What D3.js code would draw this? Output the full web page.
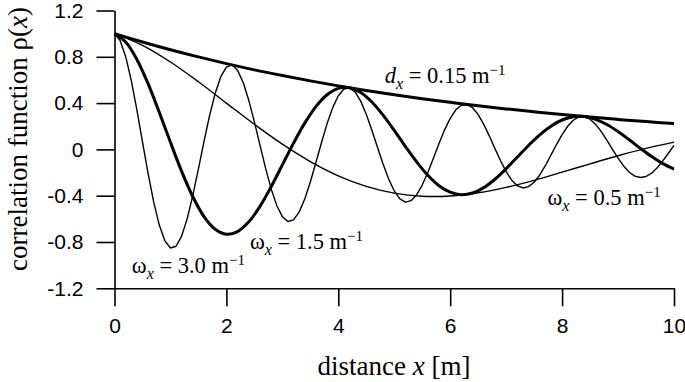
<!DOCTYPE html>
<html>
<head>
<meta charset="utf-8">
<script src="https://cdn.jsdelivr.net/npm/d3@7"></script>
<style>
  body { margin: 0; background: #fff; }
  svg { display: block; }
  .tick text { font-family: "Liberation Sans", Arial, sans-serif; fill: #000; }
  .serif { font-family: "Liberation Serif", "Times New Roman", serif; fill: #000; }
</style>
</head>
<body>
<svg id="chart" width="685" height="382"></svg>
<script>
// correlation functions
// envelope d_x = 0.15, sampled every 0.5 m
var envelope = [1.000, 0.928, 0.861, 0.799, 0.741, 0.687, 0.638, 0.592, 0.549, 0.509, 0.472,
  0.438, 0.407, 0.377, 0.350, 0.325, 0.301, 0.279, 0.259, 0.240, 0.223];

// omega_x = 0.5, every 0.5 m
var omega05 = [1.000, 0.899, 0.755, 0.584, 0.400, 0.217, 0.045, -0.105, -0.228, -0.320, -0.378,
  -0.405, -0.403, -0.375, -0.328, -0.267, -0.197, -0.125, -0.055, 0.009, 0.063];

// omega_x = 1.5, every 0.2 m
var omega15 = [1.000, 0.927, 0.777, 0.568, 0.321, 0.061, -0.190, -0.409, -0.580, -0.690, -0.733,
  -0.710, -0.626, -0.492, -0.322, -0.134, 0.054, 0.227, 0.370, 0.472, 0.527,
  0.533, 0.491, 0.409, 0.296, 0.164, 0.025, -0.108, -0.224, -0.314, -0.370,
  -0.392, -0.377, -0.330, -0.258, -0.167, -0.066, 0.034, 0.126, 0.201, 0.254,
  0.282, 0.284, 0.260, 0.215, 0.154, 0.083, 0.009, -0.062, -0.123, -0.170];

// omega_x = 3.0, every 0.1 m
var omega30 = [1.000, 0.941, 0.801, 0.594, 0.341, 0.066, -0.208, -0.454, -0.654, -0.790, -0.852,
  -0.837, -0.749, -0.597, -0.397, -0.168, 0.069, 0.293, 0.485, 0.628, 0.711,
  0.730, 0.683, 0.578, 0.424, 0.238, 0.037, -0.162, -0.341, -0.485, -0.581,
  -0.623, -0.609, -0.542, -0.429, -0.282, -0.113, 0.060, 0.223, 0.361, 0.463,
  0.522, 0.532, 0.496, 0.417, 0.303, 0.166, 0.018, -0.126, -0.256, -0.359,
  -0.427, -0.456, -0.443, -0.392, -0.308, -0.199, -0.076, 0.051, 0.169, 0.268,
  0.342, 0.382, 0.388, 0.360, 0.300, 0.216, 0.115, 0.007, -0.098, -0.192,
  -0.266, -0.314, -0.333, -0.322, -0.284, -0.221, -0.141, -0.050, 0.042, 0.128,
  0.200, 0.252, 0.280, 0.283, 0.261, 0.216, 0.154, 0.080, 0.001, -0.076,
  -0.143, -0.197, -0.231, -0.243, -0.234, -0.205, -0.158, -0.099, -0.033, 0.034];

// ticks
var xTicks = [0, 2, 4, 6, 8, 10];
var xMinorTicks = [1, 3, 5, 7, 9];
var yTicks = [-1.2, -0.8, -0.4, 0, 0.4, 0.8, 1.2];
var yTickLabels = ["-1.2", "-0.8", "-0.4", "0", "0.4", "0.8", "1.2"];
var yMinorTicks = [-1.0, -0.6, -0.2, 0.2, 0.6, 1.0];

var svg = d3.select("#chart");

var x = d3.scaleLinear().domain([0, 10]).range([114.5, 674]);
var y = d3.scaleLinear().domain([-1.2, 1.2]).range([288.3, 10.5]);

// Axes
var gx = svg.append("g").attr("transform", "translate(0," + y(-1.2) + ")");
gx.call(d3.axisBottom(x).tickValues(xMinorTicks).tickSize(9).tickFormat(""));
gx.call(d3.axisBottom(x).tickValues(xTicks).tickSize(18).tickSizeOuter(0).tickPadding(12)
  .tickFormat(d3.format("d")));

var gy = svg.append("g").attr("transform", "translate(" + x(0) + ",0)");
gy.call(d3.axisLeft(y).tickValues(yMinorTicks).tickSize(9).tickFormat(""));
gy.call(d3.axisLeft(y).tickValues(yTicks).tickSize(18).tickSizeOuter(0).tickPadding(13)
  .tickFormat(function (d, i) { return yTickLabels[i]; }));

svg.selectAll(".domain").attr("stroke", "#000").attr("stroke-width", 1.6);
svg.selectAll(".tick line").attr("stroke", "#000").attr("stroke-width", 1.6);
gx.selectAll(".tick text").style("font-size", "21px");
gy.selectAll(".tick text").style("font-size", "21px");

// Curves
function drawCurve(values, step, width, curve) {
  var pts = values.map(function (v, i) { return [i * step, v]; });
  svg.append("path")
    .datum(pts)
    .attr("fill", "none")
    .attr("stroke", "#000")
    .attr("stroke-width", width)
    .attr("stroke-linejoin", "round")
    .attr("d", d3.line()
      .x(function (d) { return x(d[0]); })
      .y(function (d) { return y(d[1]); })
      .curve(curve));
}

drawCurve(omega05, 0.5, 1.4, d3.curveCatmullRom);
drawCurve(omega30, 0.1, 1.4, d3.curveLinear);
drawCurve(omega15, 0.2, 3, d3.curveCatmullRom);
drawCurve(envelope, 0.5, 3, d3.curveCatmullRom);

// Axis titles
svg.append("text")
  .attr("class", "serif")
  .attr("x", 394)
  .attr("y", 375)
  .attr("text-anchor", "middle")
  .style("font-size", "27px")
  .html('distance <tspan font-style="italic">x</tspan> [m]');

svg.append("text")
  .attr("class", "serif")
  .attr("transform", "translate(27,139) rotate(-90)")
  .attr("text-anchor", "middle")
  .style("font-size", "27px")
  .html('correlation function ρ(<tspan font-style="italic">x</tspan>)');

// Curve labels
function curveLabel(xv, yv, sym, symItalic, value) {
  var t = svg.append("text")
    .attr("class", "serif")
    .attr("x", x(xv))
    .attr("y", y(yv))
    .style("font-size", "22.5px");
  t.append("tspan").attr("font-style", symItalic ? "italic" : "normal").text(sym);
  t.append("tspan").attr("font-style", "italic").attr("dy", 6).style("font-size", "16px").text("x");
  t.append("tspan").attr("dy", -6).text(" = " + value + " m");
  t.append("tspan").attr("dy", -8).style("font-size", "15px").text("−1");
}

curveLabel(4.83, 0.57, "d", true, "0.15");
curveLabel(7.74, -0.482, "ω", false, "0.5");
curveLabel(2.42, -0.863, "ω", false, "1.5");
curveLabel(0.31, -1.068, "ω", false, "3.0");
</script>
</body>
</html>
